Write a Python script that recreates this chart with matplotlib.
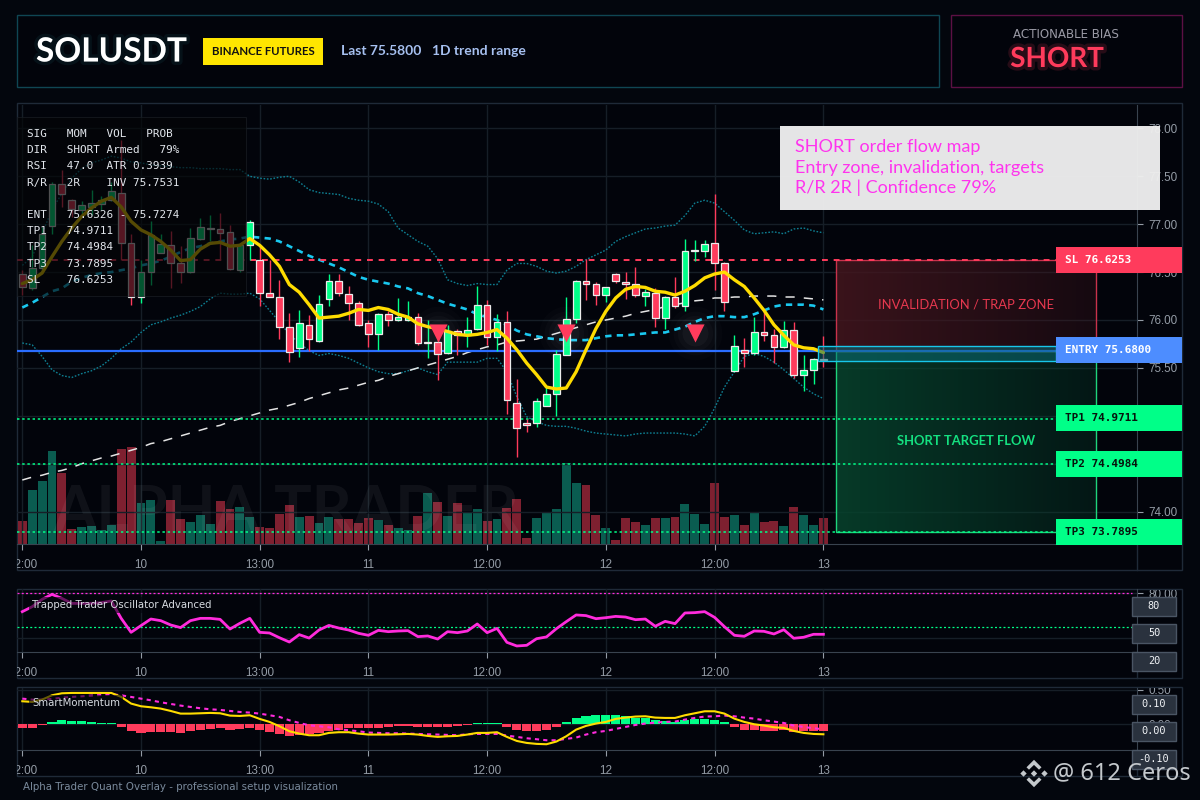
import numpy as np
import matplotlib
matplotlib.use("Agg")
import matplotlib.pyplot as plt
import matplotlib.patheffects as pe
from matplotlib.patches import Rectangle, Polygon
from matplotlib.transforms import Bbox

# ----- data ---------------------------------------------------------

opens = [76.48, 76.33, 76.54, 76.98, 77.42, 77.25, 77.15, 77.18, 77.21, 77.25,
         77.33, 76.80, 76.24, 76.50, 76.70, 76.78, 76.60, 76.50, 76.85, 76.95,
         76.95, 76.92, 76.52, 76.78, 76.63, 76.28, 76.24, 75.93, 75.71, 75.95,
         75.78, 76.22, 76.41, 76.27, 76.18, 75.97, 75.85, 76.06, 76.00, 76.00,
         76.03, 75.76, 75.77, 75.66, 75.89, 75.84, 75.91, 76.16, 75.82, 75.98,
         75.13, 74.92, 74.92, 75.10, 75.23, 75.63, 76.01, 76.41, 76.38, 76.26,
         76.48, 76.40, 76.38, 76.25, 76.28, 76.02, 76.24, 76.15, 76.72, 76.72,
         76.80, 76.60, 75.47, 75.69, 75.66, 75.87, 75.84, 75.72, 75.90, 75.43,
         75.48, 75.59]
closes = [76.34, 76.54, 76.90, 77.42, 77.31, 77.16, 77.20, 77.22, 77.25, 77.35,
          76.80, 76.24, 76.50, 76.89, 76.79, 76.60, 76.50, 76.86, 76.97, 76.96,
          76.91, 76.53, 76.78, 77.02, 76.28, 76.24, 75.93, 75.67, 75.97, 75.80,
          76.17, 76.41, 76.28, 76.18, 75.95, 75.85, 76.06, 76.00, 76.03, 76.03,
          75.76, 75.77, 75.65, 75.88, 75.84, 75.90, 76.16, 75.82, 75.98, 75.16,
          74.87, 74.90, 75.15, 75.23, 75.64, 76.01, 76.41, 76.38, 76.26, 76.34,
          76.41, 76.38, 76.26, 76.29, 76.02, 76.24, 76.15, 76.72, 76.73, 76.79,
          76.60, 76.19, 75.73, 75.66, 75.87, 75.84, 75.72, 75.90, 75.43, 75.48,
          75.59, 75.58]
highs = [76.52, 76.78, 76.97, 77.44, 77.57, 77.26, 77.24, 77.36, 77.29, 77.44,
         77.88, 76.90, 76.63, 77.03, 76.90, 76.93, 76.77, 76.96, 77.06, 77.10,
         77.12, 76.99, 76.80, 77.04, 76.77, 76.63, 76.42, 76.07, 76.10, 76.05,
         76.26, 76.48, 76.48, 76.35, 76.20, 76.00, 76.07, 76.09, 76.23, 76.20,
         76.07, 76.00, 75.86, 75.95, 75.91, 76.03, 76.35, 76.21, 76.06, 76.09,
         75.38, 74.97, 75.19, 75.30, 75.69, 76.24, 76.42, 76.64, 76.40, 76.34,
         76.49, 76.50, 76.55, 76.32, 76.33, 76.25, 76.45, 76.85, 76.84, 76.84,
         77.31, 76.61, 75.84, 75.81, 76.03, 76.09, 75.91, 75.99, 75.98, 75.63,
         75.60, 75.83]
lows = [76.26, 76.31, 76.52, 76.90, 77.18, 77.08, 77.11, 77.10, 77.15, 77.24,
        76.63, 76.16, 76.18, 76.37, 76.70, 76.33, 76.39, 76.49, 76.84, 76.82,
        76.63, 76.52, 76.50, 76.63, 76.15, 76.24, 75.80, 75.56, 75.61, 75.68,
        75.77, 76.15, 76.25, 76.00, 75.94, 75.72, 75.69, 75.94, 75.99, 75.99,
        75.74, 75.60, 75.37, 75.65, 75.63, 75.72, 75.90, 75.74, 75.68, 75.02,
        74.57, 74.83, 74.88, 75.10, 75.00, 75.63, 75.97, 76.21, 76.16, 76.19,
        76.39, 76.22, 76.24, 76.15, 75.93, 75.91, 76.12, 76.09, 76.62, 76.66,
        76.31, 76.09, 75.46, 75.51, 75.63, 75.78, 75.55, 75.71, 75.39, 75.26,
        75.33, 75.51]
volumes = [70, 163, 190, 280, 214, 46, 52, 55, 43, 58,
           286, 292, 124, 133, 10, 133, 76, 67, 88, 61,
           130, 106, 112, 82, 52, 49, 91, 118, 82, 85,
           64, 82, 76, 76, 64, 79, 73, 58, 49, 43,
           85, 154, 127, 85, 124, 97, 106, 70, 76, 109,
           136, 19, 79, 94, 106, 244, 184, 178, 88, 49,
           13, 79, 67, 58, 79, 79, 82, 121, 91, 61,
           184, 82, 88, 58, 94, 67, 70, 55, 112, 88,
           58, 79]

ema_fast = [76.38, 76.42, 76.49, 76.66, 76.82, 76.96, 77.08, 77.17, 77.24, 77.28,
            77.18, 77.03, 76.94, 76.89, 76.82, 76.73, 76.62, 76.63, 76.74, 76.80,
            76.81, 76.77, 76.78, 76.85, 76.78, 76.68, 76.56, 76.37, 76.29, 76.16,
            76.02, 76.03, 76.04, 76.07, 76.11, 76.10, 76.13, 76.11, 76.06, 76.03,
            75.96, 75.93, 75.91, 75.88, 75.85, 75.84, 75.85, 75.87, 75.90, 75.81,
            75.69, 75.55, 75.43, 75.30, 75.28, 75.29, 75.46, 75.69, 75.91, 76.09,
            76.23, 76.32, 76.35, 76.34, 76.30, 76.29, 76.26, 76.30, 76.36, 76.44,
            76.48, 76.50, 76.42, 76.35, 76.23, 76.10, 75.95, 75.84, 75.74, 75.71,
            75.70, 75.66]
ema_slow = [76.13, 76.18, 76.24, 76.30, 76.33, 76.40, 76.44, 76.47, 76.49, 76.50,
            76.52, 76.54, 76.57, 76.59, 76.62, 76.66, 76.71, 76.75, 76.77, 76.80,
            76.82, 76.84, 76.85, 76.87, 76.86, 76.85, 76.82, 76.77, 76.72, 76.67,
            76.63, 76.59, 76.55, 76.50, 76.45, 76.42, 76.40, 76.38, 76.35, 76.33,
            76.28, 76.25, 76.21, 76.17, 76.14, 76.11, 76.06, 76.03, 76.00, 75.95,
            75.89, 75.85, 75.83, 75.81, 75.80, 75.79, 75.79, 75.79, 75.81, 75.83,
            75.84, 75.84, 75.85, 75.86, 75.87, 75.87, 75.90, 75.93, 75.98, 76.02,
            76.04, 76.04, 76.03, 76.03, 76.06, 76.10, 76.14, 76.16, 76.16, 76.16,
            76.15, 76.11]
ma_long = [74.33, 74.36, 74.38, 74.41, 74.43, 74.46, 74.50, 74.53, 74.56, 74.58,
           74.61, 74.64, 74.67, 74.71, 74.73, 74.76, 74.79, 74.82, 74.85, 74.88,
           74.90, 74.94, 74.97, 75.00, 75.03, 75.06, 75.08, 75.11, 75.14, 75.18,
           75.21, 75.24, 75.27, 75.29, 75.32, 75.35, 75.37, 75.41, 75.44, 75.47,
           75.50, 75.53, 75.56, 75.59, 75.62, 75.66, 75.69, 75.72, 75.74, 75.77,
           75.78, 75.79, 75.80, 75.83, 75.86, 75.89, 75.92, 75.95, 75.98, 76.00,
           76.02, 76.04, 76.07, 76.09, 76.11, 76.14, 76.16, 76.18, 76.20, 76.21,
           76.23, 76.23, 76.24, 76.24, 76.25, 76.25, 76.25, 76.24, 76.24, 76.23,
           76.22, 76.21]
bb_upper = [76.57, 76.66, 76.90, 77.15, 77.32, 77.48, 77.58, 77.64, 77.67, 77.71,
            77.69, 77.65, 77.64, 77.62, 77.61, 77.60, 77.59, 77.59, 77.58, 77.58,
            77.58, 77.57, 77.57, 77.50, 77.48, 77.47, 77.49, 77.50, 77.44, 77.36,
            77.33, 77.32, 77.31, 77.27, 77.25, 77.24, 77.21, 77.13, 76.96, 76.89,
            76.82, 76.77, 76.64, 76.42, 76.38, 76.36, 76.38, 76.37, 76.37, 76.52,
            76.59, 76.59, 76.56, 76.51, 76.49, 76.51, 76.56, 76.63, 76.68, 76.73,
            76.82, 76.87, 76.91, 76.95, 76.96, 76.98, 76.99, 77.09, 77.22, 77.25,
            77.22, 77.13, 77.04, 76.94, 76.90, 76.91, 76.92, 76.90, 76.95, 76.96,
            76.93, 76.91]
bb_lower = [75.76, 75.74, 75.62, 75.48, 75.42, 75.40, 75.44, 75.47, 75.52, 75.60,
            75.70, 75.77, 75.87, 75.95, 75.98, 76.02, 76.05, 76.09, 76.14, 76.22,
            76.28, 76.27, 76.27, 76.28, 76.22, 76.10, 75.98, 75.85, 75.76, 75.68,
            75.63, 75.65, 75.63, 75.60, 75.55, 75.50, 75.46, 75.44, 75.44, 75.47,
            75.50, 75.46, 75.43, 75.56, 75.56, 75.56, 75.56, 75.60, 75.60, 75.46,
            75.20, 74.99, 74.94, 74.90, 74.89, 74.89, 74.87, 74.84, 74.82, 74.81,
            74.80, 74.79, 74.81, 74.82, 74.82, 74.82, 74.82, 74.81, 74.79, 74.89,
            75.08, 75.30, 75.46, 75.62, 75.65, 75.62, 75.56, 75.48, 75.39, 75.30,
            75.23, 75.18]

oscillator = [63.5, 68.0, 74.7, 79.2, 75.6, 71.0, 71.0, 71.0, 71.7, 73.2,
              57.4, 44.7, 50.8, 56.8, 55.3, 51.4, 49.0, 55.3, 57.4, 57.4,
              56.5, 47.7, 52.9, 57.4, 44.7, 44.1, 39.8, 35.9, 42.6, 39.5,
              46.8, 51.0, 48.6, 46.8, 43.8, 42.0, 46.5, 45.3, 45.9, 46.2,
              40.8, 41.4, 38.6, 45.3, 44.4, 45.9, 52.3, 44.4, 48.3, 35.6,
              32.3, 32.9, 38.9, 40.5, 48.0, 54.4, 60.5, 59.9, 57.1, 58.0,
              59.2, 58.6, 56.2, 56.8, 50.2, 54.7, 52.6, 62.3, 62.6, 63.5,
              58.3, 49.8, 42.0, 41.1, 45.9, 45.6, 43.2, 47.1, 39.3, 40.2,
              42.9, 42.9]

mom_hist = [-.053, -.053, -.015, .039, .058, .044, .044, .029, .015, .015,
            -.044, -.102, -.131, -.116, -.116, -.116, -.131, -.102, -.087, -.073,
            -.058, -.087, -.073, -.058, -.087, -.116, -.146, -.175, -.160, -.146,
            -.131, -.102, -.087, -.058, -.058, -.058, -.058, -.044, -.029, -.029,
            -.044, -.044, -.044, -.044, -.029, -.015, .015, .015, .015, -.044,
            -.087, -.102, -.102, -.087, -.044, .029, .087, .116, .131, .131,
            .131, .116, .087, .087, .058, .044, .029, .058, .073, .073,
            .058, .029, -.044, -.087, -.087, -.102, -.102, -.087, -.116, -.102,
            -.102, -.102]
mom_line = [.335, .325, .359, .422, .451, .456, .456, .456, .456, .456,
            .398, .301, .262, .247, .228, .194, .155, .155, .160, .165,
            .160, .126, .121, .131, .078, .034, -.029, -.102, -.136, -.160,
            -.160, -.126, -.116, -.116, -.136, -.150, -.150, -.150, -.146, -.141,
            -.150, -.170, -.184, -.175, -.170, -.150, -.126, -.126, -.116, -.184,
            -.243, -.272, -.286, -.291, -.252, -.175, -.078, -.024, .010, .034,
            .078, .097, .112, .116, .097, .092, .092, .131, .160, .189,
            .189, .155, .082, .034, 0.0, -.019, -.044, -.053, -.097, -.126,
            -.141, -.146]
mom_signal = [.373, .359, .359, .369, .388, .398, .407, .417, .427, .437,
              .422, .398, .373, .349, .320, .296, .272, .252, .233, .218,
              .209, .194, .179, .170, .155, .131, .107, .058, .019, -.015,
              -.029, -.044, -.073, -.087, -.102, -.121, -.126, -.131, -.131, -.136,
              -.141, -.146, -.150, -.155, -.160, -.146, -.141, -.141, -.141, -.165,
              -.184, -.204, -.218, -.233, -.233, -.213, -.194, -.150, -.116, -.097,
              -.068, -.039, -.010, .010, .024, .034, .039, .068, .092, .112,
              .116, .126, .116, .097, .082, .058, .039, .019, -.019, -.039,
              -.058, -.073]

signal_bars = [42, 55, 68]
signal_prices = [75.86, 75.86, 75.86]

time_ticks = [0, 12, 24, 35, 47, 59, 70, 81]
time_labels = ["12:00", "10", "13:00", "11", "12:00", "12", "12:00", "13"]
price_ticks = [74.0, 74.5, 75.0, 75.5, 76.0, 76.5, 77.0, 77.5, 78.0]

sl_price = 76.6253
entry_price = 75.68
tp_prices = [74.9711, 74.4984, 73.7895]
entry_zone = (75.57, 75.7274)

table_lines = ["SIG   MOM   VOL   PROB",
               "DIR   SHORT Armed   79%",
               "RSI   47.0  ATR 0.3939",
               "R/R   2R    INV 75.7531",
               "",
               "ENT   75.6326 - 75.7274",
               "TP1   74.9711",
               "TP2   74.4984",
               "TP3   73.7895",
               "SL    76.6253"]
note_lines = ["SHORT order flow map",
              "Entry zone, invalidation, targets",
              "R/R 2R | Confidence 79%"]

# ----- style --------------------------------------------------------

W, H = 1200, 800
BG = "#03060d"
PANEL = "#02040b"
GRID = "#161e27"
FRAME = "#1f2a38"
AXIS = "#39434f"
TICK = "#949ca6"
GREEN = "#00ff88"
RED = "#ff3b5c"
SANS = "Lato"
MONO = "DejaVu Sans Mono"
TICKFONT = "Liberation Sans"

X0, DX = 22.3, 9.89      # pixel of bar 0, pixels per bar
LEFT, RIGHT = 17, 1137


def bar_x(px):
    return (px - X0) / DX


def px_axes(top, bottom):
    a = fig.add_axes([LEFT / W, 1 - bottom / H, (RIGHT - LEFT) / W, (bottom - top) / H])
    a.set_facecolor("none")
    a.set_xlim(bar_x(LEFT), bar_x(RIGHT))
    a.set_xticks(time_ticks)
    a.set_xticklabels(time_labels, fontname=TICKFONT)
    a.yaxis.tick_right()
    a.tick_params(colors=TICK, labelsize=8.4, length=4, width=0.8, pad=4)
    a.tick_params(axis="x", pad=7)
    a.grid(True, color=GRID, lw=1)
    a.set_axisbelow(True)
    for s in ["top", "left"]:
        a.spines[s].set_visible(False)
    for s in ["bottom", "right"]:
        a.spines[s].set_color(AXIS)
    return a


def clip_labels(a, top):
    box = Bbox([[LEFT, 0], [W, H - top]])
    for t in a.get_xticklabels() + a.get_yticklabels():
        t.set_clip_box(box)
        t.set_clip_on(True)


fig = plt.figure(figsize=(W / 100, H / 100), dpi=100, facecolor=BG)
x = np.arange(len(opens))
o, c, hi, lo = map(np.array, (opens, closes, highs, lows))
up = c >= o

back = fig.add_axes([0, 0, 1, 1], zorder=0)
back.set_xlim(0, W)
back.set_ylim(H, 0)
back.axis("off")
for l, t, r, b in [(17, 103, 1182, 570), (17, 589, 1182, 678), (17, 687, 1182, 776)]:
    back.add_patch(Rectangle((l, t), r - l, b - t, fc=PANEL, ec=FRAME, lw=1))
for t, b in [(544, 570), (652, 678), (750, 776)]:
    back.plot([RIGHT, RIGHT], [t, b], color=FRAME, lw=1)

# ----- main panel ---------------------------------------------------

vol_ax = fig.add_axes([LEFT / W, 1 - 544 / H, (RIGHT - LEFT) / W, (544 - 105) / H], zorder=1)
vol_ax.set_facecolor("none")
vol_ax.set_xlim(bar_x(LEFT), bar_x(RIGHT))
vol_ax.set_ylim(0, 1317)
vol_ax.axis("off")
vol_ax.bar(x, volumes, width=0.9, color=["#0a5c50" if u else "#7e2030" for u in up])

ax = px_axes(105, 544)
ax.set_zorder(2)
ax.set_ylim(73.662, 78.244)
ax.set_yticks(price_ticks)
ax.set_yticklabels(["%.2f" % p for p in price_ticks], fontname=TICKFONT)

ax.text(bar_x(53), 73.68, "ALPHA TRADER", fontsize=45, fontname="Lato", fontweight="bold",
        color="white", alpha=0.055, va="bottom", ha="left", zorder=1)

# zones, fading to the right
xz0, xz1 = bar_x(836), bar_x(1096)
red_fade = np.zeros((1, 64, 4))
red_fade[..., :3] = (0.27, 0.09, 0.12)
red_fade[..., 3] = np.linspace(0.85, 0.3, 64)
green_fade = np.zeros((1, 64, 4))
green_fade[..., :3] = (0.03, 0.27, 0.18)
green_fade[..., 3] = np.linspace(0.85, 0.3, 64)
ax.imshow(red_fade, extent=[xz0, xz1, entry_price, sl_price], aspect="auto", zorder=1.5)
ax.imshow(green_fade, extent=[xz0, xz1, tp_prices[2], entry_price], aspect="auto", zorder=1.5)
ax.add_patch(Rectangle((xz0, entry_price), xz1 - xz0, sl_price - entry_price, fc="none", ec="#c8324c", lw=1, zorder=2))
ax.add_patch(Rectangle((xz0, tp_prices[2]), xz1 - xz0, entry_price - tp_prices[2], fc="none", ec="#1fd47c", lw=1, zorder=2))
ax.text((xz0 + xz1) / 2, 76.16, "INVALIDATION / TRAP ZONE", color="#e8384f", fontsize=9.4, fontname=SANS,
        ha="center", va="center", zorder=3)
ax.text((xz0 + xz1) / 2, 74.74, "SHORT TARGET FLOW", color="#14e080", fontsize=9.4, fontname=SANS,
        fontweight="bold", ha="center", va="center", zorder=3)

# indicators under the candles
ax.plot(x, bb_upper, color="#0e7f92", lw=1, ls=(0, (1.2, 1.2)), zorder=2.2)
ax.plot(x, bb_lower, color="#0e7f92", lw=1, ls=(0, (1.2, 1.2)), zorder=2.2)
ax.plot(x, ma_long, color="#e4e4e4", lw=1.1, ls=(0, (6, 6)), zorder=2.2)
ax.plot(x, ema_slow, color="#19c8ef", lw=1.9, ls=(0, (2.4, 2)), zorder=2.2)

# levels
end = bar_x(1056)
ax.plot([bar_x(LEFT), end], [sl_price, sl_price], color=RED, lw=1.4, ls=(0, (3, 3)), zorder=2.4)
for tp in tp_prices:
    ax.plot([bar_x(LEFT), end], [tp, tp], color=GREEN, lw=1.1, ls=(0, (1.6, 1.8)), zorder=2.4)
ax.plot([bar_x(LEFT), end], [entry_price, entry_price], color="#2a6dff", lw=1.6, zorder=2.4)

# candles
cols = np.where(up, GREEN, RED)
ax.vlines(x, lo, hi, colors=cols, lw=1, zorder=3)
ax.bar(x, np.maximum(np.abs(c - o), 0.004), bottom=np.minimum(o, c), width=0.68, color=cols,
       edgecolor="#ececec", linewidth=0.9, zorder=3.2)

ax.plot(x, ema_fast, color="#ffdc00", lw=2.4, solid_capstyle="round", zorder=3.5)

# entry band
ax.add_patch(Rectangle((bar_x(818), entry_zone[0]), end - bar_x(818), entry_zone[1] - entry_zone[0],
                       fc="#0a6a72", alpha=0.55, ec="none", zorder=3.6))
ax.add_patch(Rectangle((bar_x(818), entry_zone[0]), end - bar_x(818), entry_zone[1] - entry_zone[0],
                       fc="none", ec="#18c6ea", lw=1, zorder=3.7))

# sell signals with a soft halo
for size, alpha in [(1500, 0.015), (1000, 0.02), (650, 0.025), (350, 0.03)]:
    ax.scatter(signal_bars, signal_prices, s=size, color="white", alpha=alpha, lw=0, zorder=3.8)
ax.scatter(signal_bars, signal_prices, s=170, marker="v", color=RED, lw=0, zorder=3.9)

ax.set_xlim(bar_x(LEFT), bar_x(RIGHT))
ax.set_ylim(73.662, 78.244)
clip_labels(ax, 105)

# ----- oscillator panel ---------------------------------------------

osc = px_axes(589, 652)
osc.set_zorder(2)
osc.set_ylim(26.82, 84.09)
osc.set_yticks([40, 80])
osc.set_yticklabels(["", "80.00"], fontname=TICKFONT)
osc.plot([bar_x(LEFT), bar_x(1132)], [80, 80], color="#ff2bdc", lw=0.9, ls=(0, (1.6, 1.8)))
osc.plot([bar_x(LEFT), bar_x(1132)], [50, 50], color=GREEN, lw=0.9, ls=(0, (1.6, 1.8)))
osc.plot(x, oscillator, color="#ff2bdc", lw=2)
clip_labels(osc, 590)

# ----- momentum panel -----------------------------------------------

mom = px_axes(688, 750)
mom.set_zorder(2)
mom.set_ylim(-0.375, 0.528)
mom.set_yticks([0, 0.5])
mom.set_yticklabels(["0.00", "0.50"], fontname=TICKFONT)
mom.bar(x, mom_hist, width=0.92, color=[GREEN if v > 0 else RED for v in mom_hist], zorder=2)
mom.plot(x, mom_signal, color="#ff2bdc", lw=1.5, ls=(0, (2, 2)), zorder=3)
mom.plot(x, mom_line, color="#ffdc00", lw=1.5, zorder=4)
clip_labels(mom, 688)

# ----- overlay in pixel coordinates ---------------------------------

over = fig.add_axes([0, 0, 1, 1], zorder=5)
over.set_xlim(0, W)
over.set_ylim(H, 0)
over.axis("off")
over.set_facecolor("none")

# header
over.add_patch(Rectangle((17, 15), 922, 72, fc=PANEL, ec="#0f4653", lw=1))
over.add_patch(Rectangle((951, 15), 231, 72, fc=PANEL, ec="#5c1044", lw=1))
over.text(36, 52, "SOLUSDT", color="white", fontsize=24, fontname=SANS, fontweight="bold", va="center",
          path_effects=[pe.withStroke(linewidth=5, foreground="#0c2a33", alpha=0.35)])
over.add_patch(Rectangle((203, 38), 120, 27, fc="#ffe600", ec="none"))
over.text(263, 51.5, "BINANCE FUTURES", color="#111111", fontsize=8.2, fontname=SANS, fontweight="bold",
          ha="center", va="center")
over.text(341, 51, "Last 75.5800", color="#a6c0f0", fontsize=10, fontname=SANS, fontweight="bold", va="center")
over.text(432, 51, "1D trend range", color="#a6c0f0", fontsize=10, fontname=SANS, fontweight="bold", va="center")
over.text(1066, 34, "ACTIONABLE BIAS", color="#9a9aa5", fontsize=8.6, fontname="DejaVu Sans", ha="center", va="center")
over.text(1057, 59, "SHORT", color=RED, fontsize=20, fontname=SANS, fontweight="bold", ha="center", va="center",
          path_effects=[pe.withStroke(linewidth=5, foreground=RED, alpha=0.15)])

# stats table
over.add_patch(Rectangle((17, 117), 229, 179, fc="#040507", alpha=0.68, ec="#1a1e24", lw=0.8))
for line, y in zip(table_lines, [134, 150, 166, 183, 199, 215, 231, 247, 264, 280]):
    over.text(27, y, line, color="#e2e6ec", fontsize=7.9, fontname=MONO, va="center")

# note box
over.add_patch(Rectangle((780, 126), 380, 84, fc="#eeeeee", alpha=0.97, ec="none"))
for line, y in zip(note_lines, [147, 168, 188]):
    over.text(795, y, line, color="#ff33ee", fontsize=13, fontname=SANS, va="center")

# price tags
tags = [("SL 76.6253", 247, RED, "white"),
        ("ENTRY 75.6800", 337, "#4d8dff", "white"),
        ("TP1 74.9711", 405, GREEN, "#06140c"),
        ("TP2 74.4984", 451, GREEN, "#06140c"),
        ("TP3 73.7895", 519, GREEN, "#06140c")]
for label, top, fc, tc in tags:
    over.add_patch(Rectangle((1056, top), 126, 26, fc=fc, ec="none"))
    over.text(1065, top + 13, label, color=tc, fontsize=7.9, fontname=MONO, fontweight="bold", va="center")

# indicator value boxes
boxes = [("80", 597), ("50", 624), ("20", 652), ("0.10", 695), ("0.00", 722), ("-0.10", 750)]
for label, top in boxes:
    over.add_patch(Rectangle((1132, top), 44, 18.5, fc="#2a323e", ec="#4a5564", lw=1))
    over.text(1154, top + 9.2, label, color="#f0f2f5", fontsize=7.4, fontname=MONO, ha="center", va="center")

# panel titles
over.text(32, 605, "Trapped Trader Oscillator Advanced", color="#d8dce2", fontsize=7.3, fontname="DejaVu Sans",
          va="center", bbox=dict(fc="#02040b", alpha=0.6, ec="none", pad=2))
over.text(32, 703, "SmartMomentum", color="#d8dce2", fontsize=7.3, fontname="DejaVu Sans",
          va="center", bbox=dict(fc="#02040b", alpha=0.6, ec="none", pad=2))

# footer
over.text(23, 787, "Alpha Trader Quant Overlay - professional setup visualization", color="#7a8a9c",
          fontsize=7.35, fontname="DejaVu Sans", va="center")

# source mark
cx, cy = 1034, 773.5
mark = "#c4c8cc"
for dx, dy in [(-10.5, 0), (0, 0), (10.5, 0)]:
    over.add_patch(Polygon([(cx + dx - 3.2, cy + dy), (cx + dx, cy + dy - 3.2), (cx + dx + 3.2, cy + dy),
                            (cx + dx, cy + dy + 3.2)], fc=mark, ec="none"))
for s in [-1, 1]:
    over.add_patch(Polygon([(cx - 7.5, cy + s * 6.2), (cx, cy + s * 13.7), (cx + 7.5, cy + s * 6.2),
                            (cx + 5, cy + s * 3.8), (cx, cy + s * 8.6), (cx - 5, cy + s * 3.8)], fc=mark, ec="none"))
over.text(1053, 773, "@ 612 Ceros", color=mark, fontsize=17, fontname="Noto Sans", va="center")

fig.savefig("out.png", dpi=100, facecolor=BG)
